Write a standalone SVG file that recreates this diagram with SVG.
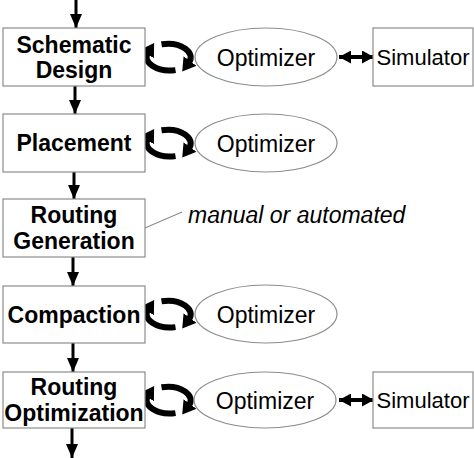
<svg xmlns="http://www.w3.org/2000/svg" width="474" height="458" viewBox="0 0 474 458">
<defs>
<style>
.box{fill:#fff;stroke:#8c8c8c;stroke-width:1.2}
.ell{fill:#fff;stroke:#8c8c8c;stroke-width:1.2}
.bt{font-family:"Liberation Sans",Arial,sans-serif;font-weight:bold;font-size:23px;text-anchor:middle;fill:#000}
.rt{font-family:"Liberation Sans",Arial,sans-serif;font-size:23px;text-anchor:middle;fill:#000}
.st{font-family:"Liberation Sans",Arial,sans-serif;font-size:22px;text-anchor:middle;fill:#000}
.it{font-family:"Liberation Sans",Arial,sans-serif;font-style:italic;font-size:23px;fill:#000}
.va{stroke:#000;stroke-width:3;fill:none;marker-end:url(#ah)}
.da{stroke:#000;stroke-width:4;fill:none;marker-start:url(#hs);marker-end:url(#he)}
.cyc{stroke:#000;stroke-width:6;fill:none;marker-end:url(#ch)}
</style>
<marker id="ah" markerUnits="userSpaceOnUse" markerWidth="14" markerHeight="14" refX="14" refY="7" orient="auto" viewBox="0 0 14 14">
<path d="M0,1 L14,7 L0,13 z" fill="#000"/>
</marker>
<marker id="he" markerUnits="userSpaceOnUse" markerWidth="12" markerHeight="13" refX="12" refY="6.5" orient="auto" viewBox="0 0 12 13">
<path d="M0,0 L12,6.5 L0,13 z" fill="#000"/>
</marker>
<marker id="hs" markerUnits="userSpaceOnUse" markerWidth="12" markerHeight="13" refX="0" refY="6.5" orient="auto" viewBox="0 0 12 13">
<path d="M12,0 L0,6.5 L12,13 z" fill="#000"/>
</marker>
<marker id="ch" markerUnits="userSpaceOnUse" markerWidth="13" markerHeight="16" refX="2" refY="8" orient="auto" viewBox="0 0 13 16">
<path d="M0,0 L13,8 L0,16 z" fill="#000"/>
</marker>
<g id="cycle">
<path class="cyc" d="M175.5,70.1 A23,13.5 0 0 1 148.2,52.3"/>
<path class="cyc" d="M161.5,44.3 A23,13.5 0 0 1 188.8,62.7"/>
</g>
</defs>

<g id="connectors">
<line class="va" x1="76" y1="0" x2="76" y2="28"/>
<line class="va" x1="75" y1="86" x2="75" y2="114"/>
<line class="va" x1="74" y1="172" x2="74" y2="199"/>
<line class="va" x1="73" y1="257" x2="73" y2="286"/>
<line class="va" x1="73" y1="343" x2="73" y2="372"/>
<line class="va" x1="72" y1="428" x2="72" y2="458"/>
<line class="da" x1="339" y1="57" x2="374" y2="57"/>
<line class="da" x1="339" y1="400" x2="374" y2="400"/>
<use href="#cycle" x="0" y="0"/>
<use href="#cycle" x="0" y="86"/>
<use href="#cycle" x="0" y="257"/>
<use href="#cycle" x="0" y="343"/>
<line x1="145" y1="228" x2="182" y2="212" stroke="#8c8c8c" stroke-width="1.2"/>
</g>

<g id="schematic">
<rect class="box" x="3" y="28" width="142" height="58"/>
<text class="bt" x="74" y="53">Schematic</text>
<text class="bt" x="74" y="78">Design</text>
</g>
<g id="placement">
<rect class="box" x="3" y="114" width="142" height="58"/>
<text class="bt" x="74" y="151">Placement</text>
</g>
<g id="routing-generation">
<rect class="box" x="3" y="199" width="142" height="58"/>
<text class="bt" x="74" y="223">Routing</text>
<text class="bt" x="74" y="249">Generation</text>
</g>
<g id="compaction">
<rect class="box" x="3" y="286" width="142" height="57"/>
<text class="bt" x="74" y="323">Compaction</text>
</g>
<g id="routing-optimization">
<rect class="box" x="3" y="372" width="142" height="56"/>
<text class="bt" x="74" y="395">Routing</text>
<text class="bt" x="74" y="421">Optimization</text>
</g>

<g id="optimizer1">
<ellipse class="ell" cx="266" cy="57" rx="71" ry="29"/>
<text class="rt" x="266" y="66">Optimizer</text>
</g>
<g id="optimizer2">
<ellipse class="ell" cx="266" cy="143" rx="71" ry="29"/>
<text class="rt" x="266" y="152">Optimizer</text>
</g>
<g id="optimizer3">
<ellipse class="ell" cx="266" cy="314" rx="71" ry="29"/>
<text class="rt" x="266" y="323">Optimizer</text>
</g>
<g id="optimizer4">
<ellipse class="ell" cx="265" cy="400" rx="71" ry="28"/>
<text class="rt" x="265" y="409">Optimizer</text>
</g>

<g id="simulator1">
<rect class="box" x="373" y="28" width="100" height="58"/>
<text class="st" x="423" y="65">Simulator</text>
</g>
<g id="simulator2">
<rect class="box" x="373" y="372" width="100" height="56"/>
<text class="st" x="423" y="408">Simulator</text>
</g>

<g id="note">
<text class="it" x="188" y="223">manual or automated</text>
</g>
</svg>
